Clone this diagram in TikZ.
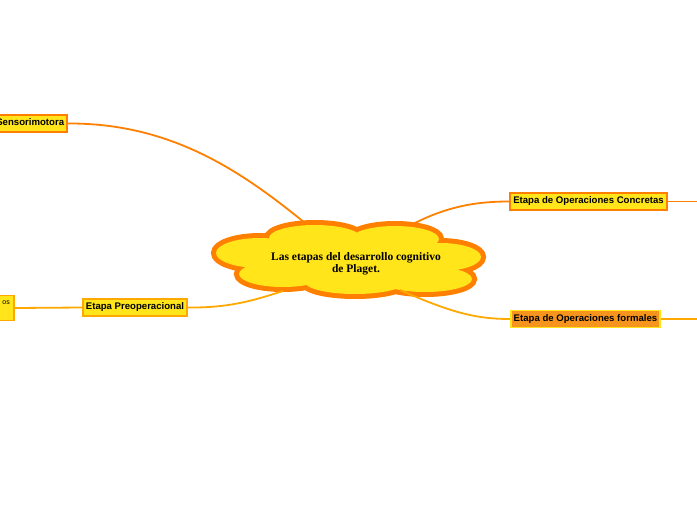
\documentclass[tikz,border=0pt]{standalone}
\usepackage{fontspec}
\setmainfont{Liberation Sans}
\newfontfamily\titlefont{Liberation Serif}
\definecolor{dorange}{HTML}{FF7F00}
\definecolor{lorange}{HTML}{FFA800}
\definecolor{yel}{HTML}{FFE51A}
\definecolor{midorange}{HTML}{F7941D}
\tikzset{
  topic/.style={draw=dorange, fill=yel, line width=1.8pt, font=\bfseries\fontsize{9.6}{11}\selectfont, inner sep=3pt, minimum height=17pt},
  topicb/.style={draw=lorange, fill=yel, line width=1.8pt, font=\bfseries\fontsize{9.6}{11}\selectfont, inner sep=3pt, minimum height=17pt},
  topicf/.style={draw=yel, fill=midorange, line width=1.8pt, font=\bfseries\fontsize{9.6}{11}\selectfont, inner sep=3pt, minimum height=17pt},
  darkline/.style={draw=dorange, line width=1.8pt},
  lightline/.style={draw=lorange, line width=1.8pt},
}
\begin{document}
\begin{tikzpicture}[x=1pt,y=-1pt]
\useasboundingbox (0,0) rectangle (697,520);
% cloud
\def\lobes{
  (260,253) ellipse (44 and 15)
  (315,238) ellipse (46 and 13)
  (395,239) ellipse (44 and 13)
  (440,257) ellipse (41 and 14)
  (425,279) ellipse (47 and 13)
  (355,282) ellipse (50 and 12)
  (283,274) ellipse (44 and 13)
  (349,260) ellipse (108 and 24)
}
\draw[dorange, line width=10pt] \lobes;
\fill[yel] \lobes;
\node[font=\titlefont\bfseries\fontsize{11.5}{12.5}\selectfont, align=center] (c) at (356,264) {Las etapas del desarrollo cognitivo\\de Plaget.};
\coordinate (cs) at (305,223);
\coordinate (cc) at (413,224);
\coordinate (cp) at (283,291);
\coordinate (cf) at (400,290);
% nodes
\node[topic, anchor=east] (s) at (68,123.5) {Etapa Sensorimotora};
\node[topicb, anchor=east, minimum height=25pt, minimum width=40pt] (o) at (15,308) {};
\node[font=\fontsize{7}{8}\selectfont, anchor=east, inner sep=0pt] (ot) at (10,303) {os};
\node[topicb] (p) at (135,307.5) {Etapa Preoperacional};
\node[topic] (k) at (588.5,201.5) {Etapa de Operaciones Concretas};
\node[topicf] (f) at (585.5,319) {Etapa de Operaciones formales};
\coordinate (ke) at (697,201.5);
\coordinate (fe) at (697,319);
% connectors
\draw[darkline] (s.east) .. controls (170,123) and (240,170) .. (cs);
\draw[darkline] (cc) .. controls (450,205) and (480,201.5) .. (k.west);
\draw[darkline] (k.east) -- (ke);
\draw[lightline] (p.east) .. controls (230,308) and (255,300) .. (cp);
\draw[lightline] (o.east) -- (p.west);
\draw[lightline] (cf) .. controls (450,312) and (475,319) .. (f.west);
\draw[lightline] (f.east) -- (fe);
\end{tikzpicture}
\end{document}
